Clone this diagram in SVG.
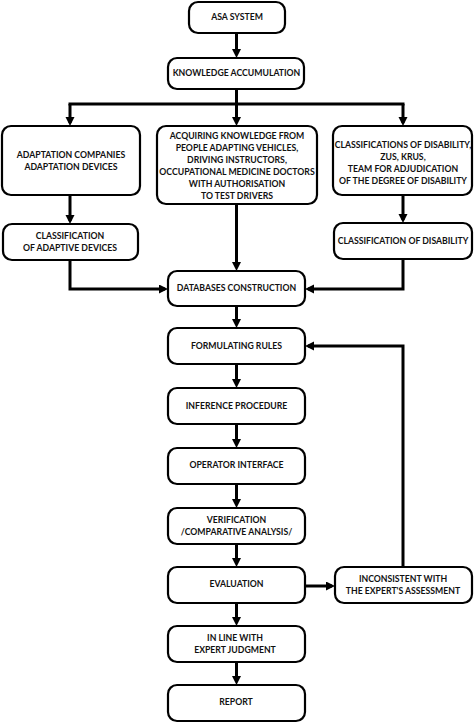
<svg xmlns="http://www.w3.org/2000/svg" width="474" height="723" viewBox="0 0 474 723">
<style>
.box{fill:#fff;stroke:#000;stroke-width:2.2}
.t{font-family:Lato,"Liberation Sans",Arial,sans-serif;font-weight:bold;font-size:8.7px;fill:#111;text-anchor:middle}
.c{fill:none;stroke:#000;stroke-width:3}
</style>
<defs>
<marker id="ah" markerUnits="userSpaceOnUse" markerWidth="10" markerHeight="10" refX="6" refY="4.5" orient="auto">
<path d="M0,0 L9,4.5 L0,9 z" fill="#000"/>
</marker>
</defs>
<rect width="474" height="723" fill="#fff"/>
<g id="connectors">
<path class="c" d="M236.5,33 V55" marker-end="url(#ah)"/>
<path class="c" d="M236.5,89 V104"/>
<path class="c" d="M68.5,104 H404.5"/>
<path class="c" d="M70,104 V123" marker-end="url(#ah)"/>
<path class="c" d="M236.5,104 V123" marker-end="url(#ah)"/>
<path class="c" d="M403,104 V123" marker-end="url(#ah)"/>
<path class="c" d="M70,195 V221" marker-end="url(#ah)"/>
<path class="c" d="M403,195 V220" marker-end="url(#ah)"/>
<path class="c" d="M236.5,204 V268" marker-end="url(#ah)"/>
<path class="c" d="M70,260 V289 H165" marker-end="url(#ah)"/>
<path class="c" d="M403,259 V289 H308" marker-end="url(#ah)"/>
<path class="c" d="M236.5,306 V325" marker-end="url(#ah)"/>
<path class="c" d="M236.5,364 V385" marker-end="url(#ah)"/>
<path class="c" d="M236.5,424 V445" marker-end="url(#ah)"/>
<path class="c" d="M236.5,484 V505" marker-end="url(#ah)"/>
<path class="c" d="M236.5,544 V564" marker-end="url(#ah)"/>
<path class="c" d="M236.5,603 V623" marker-end="url(#ah)"/>
<path class="c" d="M236.5,662 V682" marker-end="url(#ah)"/>
<path class="c" d="M306,586 H332" marker-end="url(#ah)"/>
<path class="c" d="M403,567 V346 H308" marker-end="url(#ah)"/>
</g>
<g id="asa"><rect class="box" x="189" y="2" width="96" height="31" rx="9"/><text class="t" x="237" y="20">ASA SYSTEM</text></g>
<g id="knowledge"><rect class="box" x="168" y="58" width="136" height="31" rx="9"/><text class="t" x="236.5" y="76">KNOWLEDGE ACCUMULATION</text></g>
<g id="adaptation"><rect class="box" x="2" y="126" width="138" height="69" rx="9"/><text class="t" x="71" y="158">ADAPTATION COMPANIES</text><text class="t" x="71" y="170">ADAPTATION DEVICES</text></g>
<g id="acquiring"><rect class="box" x="157" y="126" width="160" height="78" rx="9"/>
<text class="t" x="237" y="139">ACQUIRING KNOWLEDGE FROM</text>
<text class="t" x="237" y="151">PEOPLE ADAPTING VEHICLES,</text>
<text class="t" x="237" y="163">DRIVING INSTRUCTORS,</text>
<text class="t" x="237" y="175">OCCUPATIONAL MEDICINE DOCTORS</text>
<text class="t" x="237" y="187">WITH AUTHORISATION</text>
<text class="t" x="237" y="199">TO TEST DRIVERS</text></g>
<g id="classifications"><rect class="box" x="333" y="126" width="139" height="69" rx="9"/>
<text class="t" x="403" y="148">CLASSIFICATIONS OF DISABILITY,</text>
<text class="t" x="403" y="160">ZUS, KRUS,</text>
<text class="t" x="403" y="172">TEAM FOR ADJUDICATION</text>
<text class="t" x="403" y="184">OF THE DEGREE OF DISABILITY</text></g>
<g id="class-devices"><rect class="box" x="3" y="224" width="135" height="36" rx="9"/><text class="t" x="70" y="239">CLASSIFICATION</text><text class="t" x="70" y="251">OF ADAPTIVE DEVICES</text></g>
<g id="class-disability"><rect class="box" x="334" y="223" width="138" height="36" rx="9"/><text class="t" x="403" y="244">CLASSIFICATION OF DISABILITY</text></g>
<g id="databases"><rect class="box" x="168" y="271" width="137" height="35" rx="9"/><text class="t" x="236.5" y="291">DATABASES CONSTRUCTION</text></g>
<g id="rules"><rect class="box" x="168" y="328" width="137" height="36" rx="9"/><text class="t" x="236.5" y="349">FORMULATING RULES</text></g>
<g id="inference"><rect class="box" x="168" y="388" width="137" height="36" rx="9"/><text class="t" x="236.5" y="409">INFERENCE PROCEDURE</text></g>
<g id="operator"><rect class="box" x="168" y="448" width="137" height="36" rx="9"/><text class="t" x="236.5" y="468">OPERATOR INTERFACE</text></g>
<g id="verification"><rect class="box" x="168" y="508" width="137" height="36" rx="9"/><text class="t" x="236.5" y="523">VERIFICATION</text><text class="t" x="236.5" y="535">/COMPARATIVE ANALYSIS/</text></g>
<g id="evaluation"><rect class="box" x="168" y="567" width="137" height="36" rx="9"/><text class="t" x="236.5" y="587">EVALUATION</text></g>
<g id="inline"><rect class="box" x="168" y="626" width="137" height="36" rx="9"/><text class="t" x="235" y="641">IN LINE WITH</text><text class="t" x="235" y="653">EXPERT JUDGMENT</text></g>
<g id="report"><rect class="box" x="168" y="685" width="137" height="36" rx="9"/><text class="t" x="236" y="705">REPORT</text></g>
<g id="inconsistent"><rect class="box" x="335" y="567" width="137" height="36" rx="9"/><text class="t" x="403" y="582">INCONSISTENT WITH</text><text class="t" x="403" y="594">THE EXPERT'S ASSESSMENT</text></g>
</svg>
